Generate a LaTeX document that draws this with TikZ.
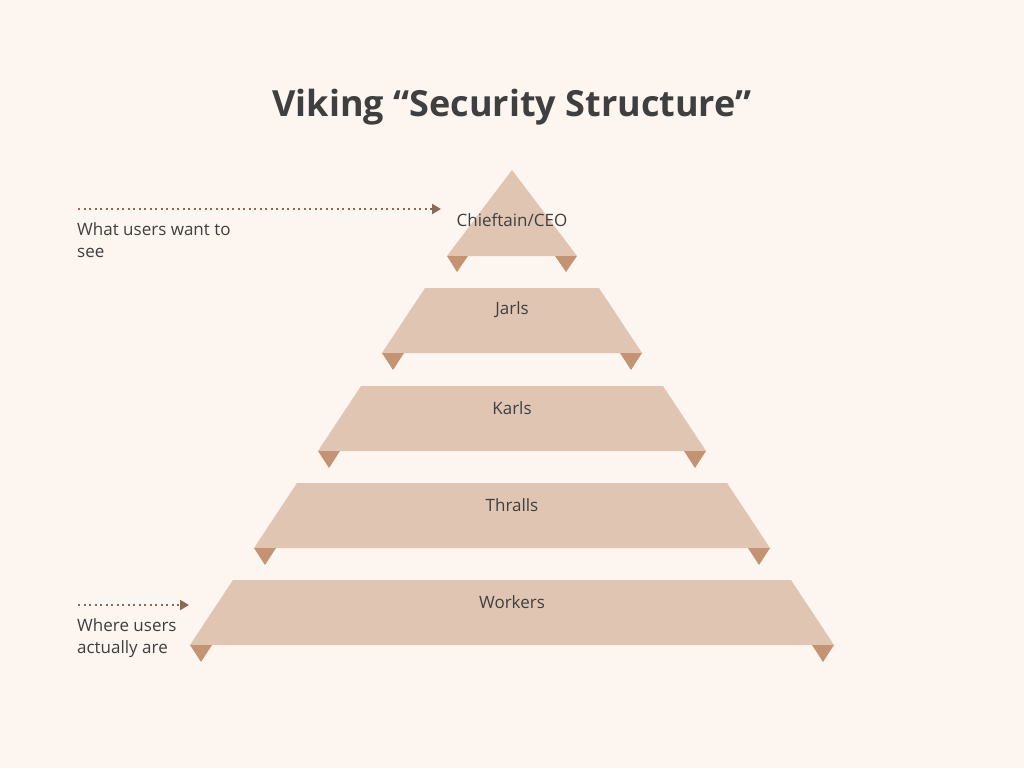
\documentclass[tikz,border=0pt]{standalone}
\usepackage{fontspec}
\setmainfont{Open Sans}
\usetikzlibrary{arrows.meta}
\definecolor{bgcol}{HTML}{FCF5F0}
\definecolor{tiercol}{HTML}{E0C5B2}
\definecolor{tabcol}{HTML}{C39373}
\definecolor{arrcol}{HTML}{8B6A55}
\definecolor{txtcol}{HTML}{3F3F3F}
\tikzset{
  tier/.style={fill=tiercol, draw=none},
  tab/.style={fill=tabcol, draw=none},
  lbl/.style={text=txtcol, font=\fontsize{17}{20}\selectfont},
  note/.style={text=txtcol, font=\fontsize{17}{22}\selectfont, align=left, anchor=north west, inner sep=0pt},
  pointer/.style={arrcol, line width=2pt, dash pattern=on 2pt off 3.5pt, -{Triangle[length=9pt,width=10pt]}}
}
\begin{document}
\begin{tikzpicture}[x=1pt,y=-1pt]
  % background
  \fill[bgcol] (0,0) rectangle (1024,768);
  \useasboundingbox (0,0) rectangle (1024,768);

  % title
  \node[text=txtcol, font=\fontsize{36}{40}\selectfont\bfseries] (title) at (512,107) {Viking “Security Structure”};

  % top triangle
  \fill[tier] (512,170) -- (577,256) -- (447,256) -- cycle;
  \fill[tab] (447,256) -- (468,256) -- (457,272) -- cycle;
  \fill[tab] (555,256) -- (577,256) -- (566,272) -- cycle;
  \node[lbl] (chief) at (512,220) {Chieftain/CEO};

  % lower tiers
  \foreach \top/\tl/\tr/\name/\txt in {
      288/425/599/jarls/Jarls/VP’s,
      386/361/663/karls/Karls/Director,
      483/297/727/thralls/Thralls/Managers,
      580/233/791/workers/Workers/End Users}{
    \pgfmathsetmacro{\bot}{\top+65}
    \pgfmathsetmacro{\bl}{\tl-43}
    \pgfmathsetmacro{\br}{\tr+43}
    \fill[tier] (\tl,\top) -- (\tr,\top) -- (\br,\bot) -- (\bl,\bot) -- cycle;
    \fill[tab] (\bl,\bot) -- (\bl+22,\bot) -- (\bl+11,\bot+17) -- cycle;
    \fill[tab] (\br-22,\bot) -- (\br,\bot) -- (\br-11,\bot+17) -- cycle;
    \node[lbl] (\name) at (512,\top+22) {\txt};
  }

  % pointers
  \coordinate (wantstart) at (78,209);
  \coordinate (wantend) at (441,209);
  \draw[pointer] (wantstart) -- (wantend);
  \node[note] (want) at (77,222) {What users want to\\see};

  \coordinate (arestart) at (78,605);
  \coordinate (areend) at (189,605);
  \draw[pointer] (arestart) -- (areend);
  \node[note] (are) at (77,618) {Where users\\actually are};
\end{tikzpicture}
\end{document}
